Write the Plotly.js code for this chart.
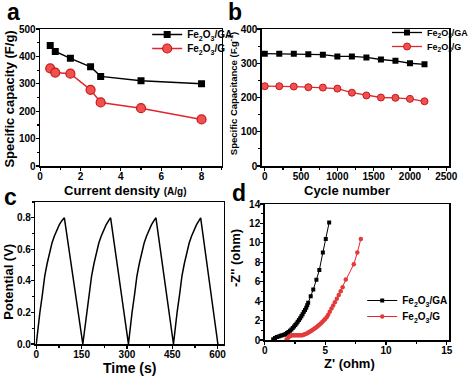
<!DOCTYPE html>
<html><head><meta charset="utf-8">
<script src="https://cdn.plot.ly/plotly-3.0.1.min.js"></script>
<style>html,body{margin:0;padding:0;background:#fff}#chart{width:474px;height:376px}</style>
</head><body><div id="chart"></div><script>
function sz(t, px) { return '<span style="font-size:' + px + 'px">' + t + '</span>'; }
function chem(suffix, px, subpx) {
  return sz('Fe', px) + '<sub>' + sz('2', subpx) + '</sub>' + sz('O', px) + '<sub>' + sz('3', subpx) + '</sub>' + sz('/' + suffix, px);
}
// panel a
const aCurrent = [0.5, 0.75, 1.5, 2.5, 3, 5, 8];
const aGA = [440, 418, 393, 362, 327, 311, 300];
const aG = [356, 341, 337, 278, 232, 211, 170];
// panel b
const bCycles = [0, 200, 400, 600, 800, 1000, 1200, 1400, 1600, 1800, 2000, 2200];
const bGA = [328, 328, 328, 326, 325, 320, 320, 317, 311, 307, 300, 297];
const bG = [233, 233, 232, 230, 229, 226, 214, 206, 200, 199, 196, 189];
// panel c
const cTime = [0,5,12,20,28,36,44,52,60,68,76,84,93,154,
  160,167,175,183,191,199,207,215,223,231,239,246,305,
  310,317,325,333,341,349,357,365,373,381,389,396,454,
  459,466,474,482,490,498,506,514,522,530,538,544,601];
const cPotential = [0,0.09,0.2,0.31,0.43,0.51,0.58,0.64,0.685,0.725,0.755,0.78,0.8,0,
  0.09,0.2,0.31,0.43,0.51,0.58,0.64,0.685,0.725,0.755,0.78,0.8,0,
  0.09,0.2,0.31,0.43,0.51,0.58,0.64,0.685,0.725,0.755,0.78,0.8,0,
  0.09,0.2,0.31,0.43,0.51,0.58,0.64,0.685,0.725,0.755,0.78,0.8,0];
// panel d
const dGAre = [0.7,0.85,1.0,1.15,1.3,1.45,1.6,1.72,1.84,1.96,2.08,2.2,2.31,2.42,2.52,2.62,2.72,2.82,2.92,3.02,3.12,3.22,3.32,3.42,3.5,3.58,3.79,4.0,4.26,4.5,4.79,5.03,5.31];
const dGAim = [0.07,0.2,0.3,0.37,0.43,0.48,0.55,0.63,0.72,0.83,0.95,1.08,1.23,1.38,1.54,1.7,1.88,2.06,2.25,2.45,2.66,2.88,3.1,3.33,3.58,3.84,4.5,5.2,6.2,7.2,9.0,10.4,12.1];
const dGre = [1.8,1.9,2.0,2.1,2.2,2.3,2.4,2.5,2.6,2.7,2.8,2.9,3.0,3.1,3.2,3.3,3.42,3.54,3.66,3.78,3.9,4.02,4.14,4.26,4.38,4.5,4.62,4.74,4.86,4.98,5.1,5.23,5.36,5.5,5.64,5.78,5.94,6.1,6.26,6.42,6.68,7.34,7.63,7.92];
const dGim = [0.05,0.2,0.33,0.42,0.47,0.48,0.48,0.48,0.48,0.48,0.48,0.48,0.48,0.5,0.53,0.58,0.65,0.73,0.82,0.91,1.0,1.1,1.2,1.31,1.43,1.56,1.7,1.85,2.0,2.16,2.35,2.6,2.9,3.25,3.55,3.88,4.25,4.63,5.02,5.42,6.23,7.8,9.0,10.4];

const FONT = 'Liberation Sans, Arial, sans-serif';
const BLACK = '#000000';
const RED = '#e3262d';
const W = 474, H = 376;

function ax(extra) {
  return Object.assign({
    showline: true, linecolor: BLACK, linewidth: 1.5, mirror: true,
    ticks: 'outside', ticklen: 3, tickwidth: 1.2, tickcolor: BLACK,
    showgrid: false, zeroline: false, automargin: false,
    tickfont: {family: FONT, size: 10, color: BLACK, weight: 'bold'},
  }, extra);
}
const minorOut = (d) => ({dtick: d, ticklen: 2, ticks: 'outside', tickcolor: BLACK});

const traces = [
  {x: aCurrent, y: aGA, name: chem('GA', 10, 7), mode: 'lines+markers', xaxis: 'x', yaxis: 'y', legend: 'legend',
   line: {color: BLACK, width: 1.5}, marker: {symbol: 'square', size: 7, color: BLACK}},
  {x: aCurrent, y: aG, name: chem('G', 10, 7), mode: 'lines+markers', xaxis: 'x', yaxis: 'y', legend: 'legend2',
   line: {color: RED, width: 1.5}, marker: {symbol: 'circle', size: 9, color: '#f05050', line: {color: '#c41a1a', width: 1.2}}},
  {x: bCycles, y: bGA, name: chem('GA', 9, 6.5), mode: 'lines+markers', xaxis: 'x2', yaxis: 'y2', legend: 'legend3',
   line: {color: BLACK, width: 1.3}, marker: {symbol: 'square', size: 6, color: BLACK}},
  {x: bCycles, y: bG, name: chem('G', 9, 6.5), mode: 'lines+markers', xaxis: 'x2', yaxis: 'y2', legend: 'legend4',
   line: {color: RED, width: 1.3}, marker: {symbol: 'circle', size: 7, color: '#f05050', line: {color: '#c41a1a', width: 1}}},
  {x: cTime, y: cPotential, name: 'GCD', mode: 'lines', xaxis: 'x3', yaxis: 'y3', showlegend: false,
   line: {color: BLACK, width: 1.5}},
  {x: dGAre, y: dGAim, name: chem('GA', 10, 7), mode: 'lines+markers', xaxis: 'x4', yaxis: 'y4', legend: 'legend5',
   line: {color: BLACK, width: 1}, marker: {symbol: 'square', size: 4, color: BLACK}},
  {x: dGre, y: dGim, name: chem('G', 10, 7), mode: 'lines+markers', xaxis: 'x4', yaxis: 'y4', legend: 'legend6',
   line: {color: RED, width: 1}, marker: {symbol: 'circle', size: 4.5, color: '#e33a3a'}},
];

function leg(xpx, toppx, size) {
  return {bgcolor: 'rgba(0,0,0,0)', borderwidth: 0, xanchor: 'left', yanchor: 'top',
    x: xpx / W, y: 1 - toppx / H, font: {family: FONT, size: size, color: BLACK, weight: 'bold'}};
}
function note(text, xpx, ypx, size, angle) {
  return {text: text, x: xpx / W, y: 1 - ypx / H, xref: 'paper', yref: 'paper', showarrow: false,
    xanchor: 'center', yanchor: 'middle', textangle: angle || 0,
    font: {family: FONT, size: size, color: BLACK, weight: 'bold'}};
}

const layout = {
  width: W, height: H,
  margin: {l: 0, r: 0, t: 0, b: 0},
  paper_bgcolor: '#fff', plot_bgcolor: '#fff',
  font: {family: FONT, color: BLACK},
  xaxis: ax({domain: [42/W, 232/W], range: [0, 9], dtick: 2, minor: minorOut(1), anchor: 'y', ticklabelstandoff: -3}),
  yaxis: ax({domain: [1-166/H, 1-29/H], range: [0, 500], dtick: 100, minor: minorOut(50), anchor: 'x', ticklabelstandoff: -2}),
  xaxis2: ax({domain: [274/W, 470/W], range: [-40, 2540], dtick: 500, minor: minorOut(250), anchor: 'y2', ticklabelstandoff: -3}),
  yaxis2: ax({domain: [1-166/H, 1-29/H], range: [0, 400], dtick: 100, minor: minorOut(50), anchor: 'x2', ticklabelstandoff: -2}),
  xaxis3: ax({domain: [37/W, 234/W], range: [-3, 620], dtick: 150, minor: minorOut(75), anchor: 'y3', ticklabelstandoff: -3}),
  yaxis3: ax({domain: [1-344/H, 1-202/H], range: [0, 0.9], dtick: 0.2, tickformat: '.1f', minor: minorOut(0.1), anchor: 'x3', ticklabelstandoff: -2}),
  xaxis4: ax({domain: [277/W, 470/W], range: [0, 15.2], dtick: 5, minor: minorOut(2.5), anchor: 'y4', ticklabelstandoff: -3}),
  yaxis4: ax({domain: [1-340/H, 1-204/H], range: [0, 14], dtick: 2, minor: minorOut(1), anchor: 'x4', ticklabelstandoff: -2}),
  legend: leg(154, 20, 10),
  legend2: leg(154, 34, 10),
  legend3: leg(405, 18, 9),
  legend4: leg(405, 32, 9),
  legend5: leg(379, 286, 10),
  legend6: leg(379, 302, 10),
  annotations: [
    note('a', 14, 12, 23), note('b', 246, 12, 23), note('c', 11, 197, 23), note('d', 250, 193, 23),
    note(sz('Current density ', 13) + sz('(A/g)', 10), 131, 190, 13),
    note('Specific capacity (F/g)', 9, 99, 13, -90),
    note('Cycle number', 363, 190, 13),
    note(sz('Specific Capacitance (F.g', 9.5) + '<sup>' + sz('-1', 7) + '</sup>' + sz(')', 9.5), 244, 94, 9.5, -90),
    note('Time (s)', 136, 368, 14),
    note('Potential (V)', 8, 282, 13, -90),
    note("Z' (ohm)", 366, 363, 13),
    note("-Z'' (ohm)", 246, 258, 13, -90),
  ],
};

Plotly.newPlot('chart', traces, layout, {displayModeBar: false, staticPlot: true});
</script></body></html>
